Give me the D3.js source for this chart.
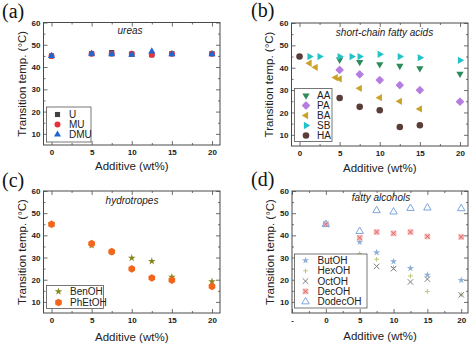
<!DOCTYPE html>
<html>
<head>
<meta charset="utf-8">
<script src="https://cdn.jsdelivr.net/npm/d3@7"></script>
<style>
  body { margin: 0; background: #fff; }
  svg { display: block; }
  text { font-family: "Liberation Sans", Arial, sans-serif; }
</style>
</head>
<body>
<svg id="fig" width="474" height="345"></svg>
<script>
// ---- tick values / labels
var xTickVals = [0, 5, 10, 15, 20];
var xMinorVals = [2.5, 7.5, 12.5, 17.5];
var xTickValsD = [-5, 0, 5, 10, 15, 20];
var xTickLabelsD = ["-", "0", "5", "10", "15", "20"];
var xMinorValsD = [-2.5, 2.5, 7.5, 12.5, 17.5];
var yTickVals = [10, 20, 30, 40, 50, 60];
var yMinorVals = [15, 25, 35, 45, 55];

// ---- (a) ureas
var xUreas = [0, 5, 7.5, 10, 12.5, 15, 20];
var yU = [45, 46, 46.5, 45.8, 45.5, 46, 46];
var yMU = [45, 46, 46, 46, 45.5, 46, 46];
var yDMU = [45, 46, 45.8, 45.6, 47, 45.8, 45.8];

// ---- (b) short-chain fatty acids
var xAA = [5, 7.5, 10, 12.5, 15, 20];
var yAA = [43.6, 42.5, 41.5, 40.8, 39.7, 37.3];
var xPA = [5, 7.5, 10, 12.5, 15, 20];
var yPA = [39, 37, 34.5, 32.2, 30, 24.8];
var xBA = [1.25, 2, 4.5, 5, 7.5, 10, 12.5, 15];
var yBA = [42, 40.2, 35.6, 35, 30.8, 26.6, 25, 21.6];
var xSB = [1.25, 2.5, 5, 6.5, 7.5, 10, 12.5, 15, 20];
var ySB = [45, 45, 45, 45, 45, 46, 45, 44.5, 43.3];
var xHA = [0, 5, 7.5, 10, 12.5, 15];
var yHA = [45, 26.5, 22.5, 21, 13.5, 14.3];

// ---- (c) hydrotropes
var xHydro = [0, 5, 7.5, 10, 12.5, 15, 20];
var yBenOH = [45, 35.5, 32.5, 29.8, 28.3, 21.2, 19.2];
var yPhEtOH = [45, 36.3, 32.7, 24.9, 20.8, 19.8, 17];

// ---- (d) fatty alcohols
var xAlc = [0, 5, 7.5, 10, 12.5, 15, 20];
var yButOH = [45, 37, 32.3, 28.2, 25.2, 22.2, 19.8];
var yHexOH = [45, 31.8, 29.2, 25.5, 21.7, 14.7, 13.2];
var yOctOH = [45, 27.4, 26, 25, 19, 20.3, 13.2];
var yDecOH = [45, 38.9, 41.5, 40.9, 41.5, 39.5, 39.3];
var yDodecOH = [45, 41.8, 51.2, 50.6, 52.2, 52.4, 52.1];

var svg = d3.select("#fig");
var frameColor = "#4a4a4a";

// custom symbol types
var symHex = {
  draw: function (ctx, size) {
    var r = Math.sqrt((2 * size) / (3 * Math.sqrt(3)));
    for (var i = 0; i < 6; i++) {
      var a = (Math.PI / 3) * i - Math.PI / 2;
      if (i === 0) ctx.moveTo(r * Math.cos(a), r * Math.sin(a));
      else ctx.lineTo(r * Math.cos(a), r * Math.sin(a));
    }
    ctx.closePath();
  }
};
var symPlus = {
  draw: function (ctx, size) {
    var r = Math.sqrt(size) / 2;
    ctx.moveTo(-r, 0); ctx.lineTo(r, 0);
    ctx.moveTo(0, -r); ctx.lineTo(0, r);
  }
};
var symX = {
  draw: function (ctx, size) {
    var r = Math.sqrt(size) / 2;
    ctx.moveTo(-r, -r); ctx.lineTo(r, r);
    ctx.moveTo(-r, r); ctx.lineTo(r, -r);
  }
};
var symDiamond = {
  draw: function (ctx, size) {
    var r = Math.sqrt(size / 2);
    ctx.moveTo(0, -r); ctx.lineTo(r, 0); ctx.lineTo(0, r); ctx.lineTo(-r, 0);
    ctx.closePath();
  }
};

function drawMarker(g, shape, color, size, cx, cy) {
  var t = "translate(" + cx + "," + cy + ")";
  if (shape === "square") {
    g.append("path").attr("d", d3.symbol(d3.symbolSquare, size)()).attr("transform", t).attr("fill", color);
  } else if (shape === "circle") {
    g.append("path").attr("d", d3.symbol(d3.symbolCircle, size)()).attr("transform", t).attr("fill", color);
  } else if (shape === "up" || shape === "down" || shape === "left" || shape === "right") {
    var rot = { up: 0, down: 180, left: -90, right: 90 }[shape];
    g.append("path").attr("d", d3.symbol(d3.symbolTriangle, size)())
      .attr("transform", t + " rotate(" + rot + ")").attr("fill", color);
  } else if (shape === "openup") {
    g.append("path").attr("d", d3.symbol(d3.symbolTriangle, size)()).attr("transform", t)
      .attr("fill", "none").attr("stroke", color).attr("stroke-width", 1);
  } else if (shape === "diamond") {
    g.append("path").attr("d", d3.symbol(symDiamond, size)()).attr("transform", t)
      .attr("fill", color).attr("stroke", color).attr("stroke-width", 1.2).attr("stroke-linejoin", "round");
  } else if (shape === "star") {
    g.append("path").attr("d", d3.symbol(d3.symbolStar, size)()).attr("transform", t).attr("fill", color);
  } else if (shape === "hex") {
    g.append("path").attr("d", d3.symbol(symHex, size)()).attr("transform", t).attr("fill", color);
  } else if (shape === "plus") {
    g.append("path").attr("d", d3.symbol(symPlus, size)()).attr("transform", t)
      .attr("fill", "none").attr("stroke", color).attr("stroke-width", 1);
  } else if (shape === "x") {
    g.append("path").attr("d", d3.symbol(symX, size)()).attr("transform", t)
      .attr("fill", "none").attr("stroke", color).attr("stroke-width", 1);
  } else if (shape === "boxx") {
    g.append("path").attr("d", d3.symbol(d3.symbolSquare, size)()).attr("transform", t).attr("fill", "#f7b8b8");
    g.append("path").attr("d", d3.symbol(symX, size * 0.6)()).attr("transform", t)
      .attr("fill", "none").attr("stroke", color).attr("stroke-width", 1);
  }
}

function drawPanel(p) {
  var x = d3.scaleLinear().domain(p.xDomain).range([p.left, p.right]);
  var y = d3.scaleLinear().domain([5, 60]).range([p.bottom, p.top]);
  var g = svg.append("g");

  g.append("rect")
    .attr("x", p.left).attr("y", p.top)
    .attr("width", p.right - p.left).attr("height", p.bottom - p.top)
    .attr("fill", "#fff");

  var xt = p.xTicks || xTickVals;
  var xm = p.xMinor || xMinorVals;
  var xfmt = p.xLabels ? function (d, i) { return p.xLabels[i]; } : d3.format("d");

  // bottom axis (major + minor), inward ticks
  g.append("g").attr("transform", "translate(0," + p.bottom + ")")
    .call(d3.axisBottom(x).tickValues(xt).tickSize(-4).tickPadding(4).tickFormat(xfmt));
  g.append("g").attr("transform", "translate(0," + p.bottom + ")")
    .call(d3.axisBottom(x).tickValues(xm).tickSize(-2).tickFormat(""));
  // top mirror
  g.append("g").attr("transform", "translate(0," + p.top + ")")
    .call(d3.axisTop(x).tickValues(xt).tickSize(-4).tickFormat(""));
  g.append("g").attr("transform", "translate(0," + p.top + ")")
    .call(d3.axisTop(x).tickValues(xm).tickSize(-2).tickFormat(""));
  // left axis
  g.append("g").attr("transform", "translate(" + p.left + ",0)")
    .call(d3.axisLeft(y).tickValues(yTickVals).tickSize(-4).tickPadding(3).tickFormat(d3.format("d")));
  g.append("g").attr("transform", "translate(" + p.left + ",0)")
    .call(d3.axisLeft(y).tickValues(yMinorVals).tickSize(-2).tickFormat(""));
  // right mirror
  g.append("g").attr("transform", "translate(" + p.right + ",0)")
    .call(d3.axisRight(y).tickValues(yTickVals).tickSize(-4).tickFormat(""));
  g.append("g").attr("transform", "translate(" + p.right + ",0)")
    .call(d3.axisRight(y).tickValues(yMinorVals).tickSize(-2).tickFormat(""));

  g.selectAll(".domain").remove();
  g.selectAll(".tick line").attr("stroke", frameColor).attr("stroke-width", 0.8);
  g.selectAll(".tick text")
    .attr("fill", "#222")
    .style("font-family", '"Liberation Sans", Arial, sans-serif')
    .style("font-size", "8px")
    .style("font-weight", "bold");

  g.append("rect")
    .attr("x", p.left).attr("y", p.top)
    .attr("width", p.right - p.left).attr("height", p.bottom - p.top)
    .attr("fill", "none").attr("stroke", frameColor).attr("stroke-width", 1);

  // data markers
  var mg = g.append("g");
  p.series.forEach(function (s) {
    s.x.forEach(function (xv, i) {
      drawMarker(mg, s.shape, s.color, s.size, x(xv), y(s.y[i]));
    });
  });

  // title
  g.append("text")
    .attr("x", p.titleX).attr("y", p.titleY)
    .attr("text-anchor", "middle")
    .style("font-size", "10px").style("font-style", "italic")
    .attr("fill", "#222")
    .text(p.title);

  // legend
  var lg = p.legend;
  g.append("rect")
    .attr("x", lg.x0).attr("y", lg.y0)
    .attr("width", lg.x1 - lg.x0).attr("height", lg.y1 - lg.y0)
    .attr("fill", "#fff").attr("stroke", "#555").attr("stroke-width", 0.8);
  p.series.forEach(function (s, i) {
    var yy = lg.first + i * lg.step;
    drawMarker(g, s.shape, s.color, s.size, lg.mx, yy);
    g.append("text")
      .attr("x", lg.tx).attr("y", yy).attr("dy", "0.36em")
      .style("font-size", "10px").attr("fill", "#222")
      .text(s.name);
  });

  // axis titles
  g.append("text")
    .attr("transform", "translate(" + p.yLabX + "," + (p.top + p.bottom) / 2 + ") rotate(-90)")
    .attr("text-anchor", "middle")
    .style("font-size", "11.5px").attr("fill", "#222")
    .text("Transition temp. (°C)");
  g.append("text")
    .attr("x", (p.left + p.right) / 2).attr("y", p.xLabY)
    .attr("text-anchor", "middle")
    .style("font-size", "11.5px").attr("fill", "#222")
    .text("Additive (wt%)");

  // panel letter
  g.append("text")
    .attr("x", p.letterX).attr("y", p.letterY)
    .style("font-family", '"Liberation Serif", "Times New Roman", serif')
    .style("font-size", "20px").attr("fill", "#111")
    .text(p.letter);
}

drawPanel({
  letter: "(a)", letterX: 2, letterY: 18,
  left: 43.5, right: 220, top: 22.5, bottom: 145,
  xDomain: [-1, 21],
  title: "ureas", titleX: 130, titleY: 34,
  yLabX: 26, xLabY: 170,
  legend: { x0: 46.5, x1: 91, y0: 107, y1: 142, first: 114.5, step: 10, mx: 57.5, tx: 69 },
  series: [
    { name: "U", x: xUreas, y: yU, shape: "square", color: "#404040", size: 26 },
    { name: "MU", x: xUreas, y: yMU, shape: "circle", color: "#e8303a", size: 28 },
    { name: "DMU", x: xUreas, y: yDMU, shape: "up", color: "#2166d0", size: 22 }
  ]
});

drawPanel({
  letter: "(b)", letterX: 251, letterY: 17,
  left: 291.5, right: 468, top: 23, bottom: 146,
  xDomain: [-1, 21],
  title: "short-chain fatty acids", titleX: 384.5, titleY: 36,
  yLabX: 273, xLabY: 172,
  legend: { x0: 294.5, x1: 332, y0: 88.5, y1: 141.5, first: 95.5, step: 10, mx: 306, tx: 317 },
  series: [
    { name: "AA", x: xAA, y: yAA, shape: "down", color: "#2e8b5c", size: 23 },
    { name: "PA", x: xPA, y: yPA, shape: "diamond", color: "#b67de0", size: 24 },
    { name: "BA", x: xBA, y: yBA, shape: "left", color: "#c9a227", size: 23 },
    { name: "SB", x: xSB, y: ySB, shape: "right", color: "#22c3c8", size: 23 },
    { name: "HA", x: xHA, y: yHA, shape: "circle", color: "#5b3d38", size: 34 }
  ]
});

drawPanel({
  letter: "(c)", letterX: 2, letterY: 187,
  left: 43.5, right: 220, top: 191, bottom: 313,
  xDomain: [-1, 21],
  title: "hydrotropes", titleX: 132, titleY: 204,
  yLabX: 26, xLabY: 341,
  legend: { x0: 46.5, x1: 103.5, y0: 285.5, y1: 308.5, first: 291.5, step: 11, mx: 58.5, tx: 70 },
  series: [
    { name: "BenOH", x: xHydro, y: yBenOH, shape: "star", color: "#85861e", size: 18 },
    { name: "PhEtOH", x: xHydro, y: yPhEtOH, shape: "hex", color: "#f2651a", size: 38 }
  ]
});

drawPanel({
  letter: "(d)", letterX: 251, letterY: 186,
  left: 292, right: 468, top: 191, bottom: 313,
  xDomain: [-5, 21], xTicks: xTickValsD, xLabels: xTickLabelsD, xMinor: xMinorValsD,
  title: "fatty alcohols", titleX: 381, titleY: 201,
  yLabX: 274, xLabY: 340,
  legend: { x0: 294.5, x1: 367, y0: 254, y1: 308, first: 260.5, step: 10.3, mx: 305.5, tx: 317.5 },
  series: [
    { name: "ButOH", x: xAlc, y: yButOH, shape: "star", color: "#8fb0d6", size: 16 },
    { name: "HexOH", x: xAlc, y: yHexOH, shape: "plus", color: "#bfc77a", size: 22 },
    { name: "OctOH", x: xAlc, y: yOctOH, shape: "x", color: "#7d7d7d", size: 30 },
    { name: "DecOH", x: xAlc, y: yDecOH, shape: "boxx", color: "#e06a6a", size: 32 },
    { name: "DodecOH", x: xAlc, y: yDodecOH, shape: "openup", color: "#7ea6dc", size: 24 }
  ]
});
</script>
</body>
</html>
